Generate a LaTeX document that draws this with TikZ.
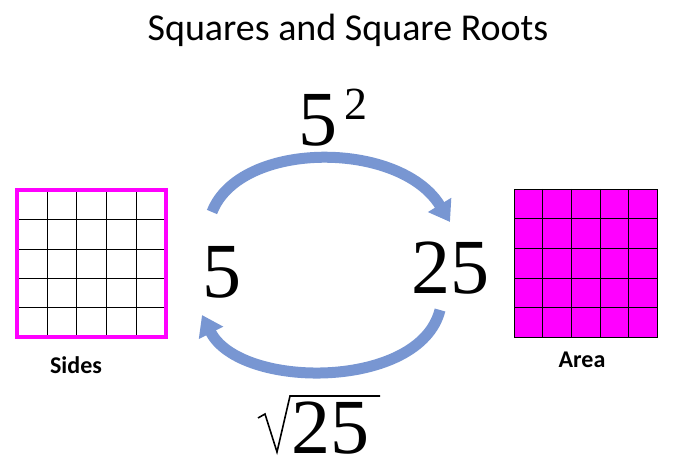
\documentclass[tikz,border=0pt]{standalone}
\usepackage{fontspec}
\setmainfont{Liberation Serif}
\newfontfamily\calfont{Carlito}
\usetikzlibrary{arrows.meta}
\definecolor{mag}{RGB}{255,0,255}
\definecolor{arr}{RGB}{120,150,210}
\tikzset{lbl/.style={font=\calfont\bfseries\fontsize{24}{28}\selectfont},
 num/.style={font=\fontsize{78}{80}\selectfont},
 bigarrow/.style={line width=11pt,draw=arr,-{Triangle[width=26pt,length=20pt]}}}
\begin{document}
\begin{tikzpicture}[x=1pt,y=-1pt]
\useasboundingbox (0,0) rectangle (696,473);
\node (title) at (348,30) {\calfont\fontsize{38}{42}\selectfont Squares and Square Roots};
% left grid
\foreach \i in {1,...,4}{\draw (17+\i*29.8,190)--(17+\i*29.8,337); \draw (17,190+\i*29.4)--(166,190+\i*29.4);}
\draw[mag,line width=4pt] (17,190) rectangle (166,337);
% right grid
\fill[mag] (514,189) rectangle (657,337);
\foreach \i in {1,...,4}{\draw (514+\i*28.6,189)--(514+\i*28.6,337); \draw (514,189+\i*29.6)--(657,189+\i*29.6);}
\draw (514,189) rectangle (657,337);
\node[lbl] (sides) at (76,365) {Sides};
\node[lbl] (area) at (582,360) {Area};
\node[num] (five) at (222,272) {5};
\node[num] (tf) at (450,268) {25};
\node[num] (sq) at (333,118) {5\raisebox{26pt}{\fontsize{46}{46}\selectfont\,2}};
\node[num,inner sep=0pt] (rt) at (330,428) {25};
\draw[line width=1.6pt] (258,418) -- (265,414) -- (277,452) -- (290,396) -- (380,396);
\coordinate (a1) at (212,212);
\coordinate (a2) at (450,222);
\coordinate (b1) at (440,310);
\coordinate (b2) at (202,315);
\draw[bigarrow] (a1) .. controls (240,140) and (400,140) .. (a2);
\draw[bigarrow] (b1) .. controls (420,390) and (240,390) .. (b2);
\end{tikzpicture}
\end{document}
